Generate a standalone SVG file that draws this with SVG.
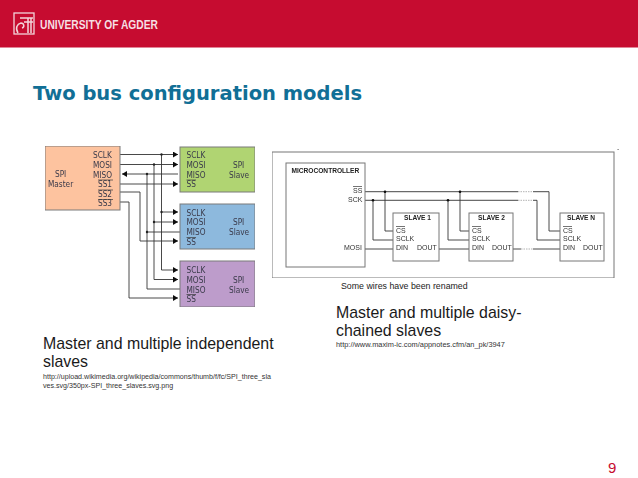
<svg xmlns="http://www.w3.org/2000/svg" width="638" height="478" viewBox="0 0 638 478">
<style>
text{font-family:"Liberation Sans",Arial,sans-serif}
.d{font-family:"DejaVu Sans Condensed","DejaVu Sans",sans-serif;font-size:8.2px;fill:#3a3a4a}
.m{font-size:7px;fill:#333}
.b{font-size:6.6px;font-weight:bold;fill:#222}
.w{fill:none;stroke:#333;stroke-width:.9}
.r{fill:none;stroke:#777;stroke-width:1}
.box{stroke:#7a7a7a;stroke-width:1}
.big{font-size:15.900px;fill:#1a1a1a}
.src{font-size:7.100px;fill:#333}
.o{stroke:#3a3a3a;stroke-width:.7}
</style>
<defs>
<marker id="a" markerUnits="userSpaceOnUse" markerWidth="6" markerHeight="6" refX="5" refY="3" orient="auto"><path d="M0 0L5 3L0 6z" fill="#111"/></marker>
<filter id="soft" x="0" y="0" width="1" height="1"><feGaussianBlur stdDeviation="0.35"/></filter>
</defs>
<rect width="638" height="478" fill="#fff"/>
<g id="header">
<rect width="638" height="47.500" fill="#c60c30"/>
<g id="logo" fill="none" stroke="#f3d5da">
<rect x="14" y="13" width="20" height="21" stroke-width="1.300"/>
<path d="M20 18H33M24 22H33M28 18V33M31 18V33M18 33C15 28 17 24 21 23C24 23 25 27 22 28" stroke-width="1.500"/>
</g>
<text x="40" y="29" font-size="12.500" font-weight="bold" fill="#f6dfe3" textLength="118" lengthAdjust="spacingAndGlyphs">UNIVERSITY OF AGDER</text>
</g>
<text x="33" y="99.500" font-size="19" font-weight="bold" fill="#116f96" style="font-family:'DejaVu Sans',Verdana,sans-serif" textLength="329" lengthAdjust="spacingAndGlyphs">Two bus configuration models</text>

<g id="left-figure" filter="url(#soft)">
<g id="left-connectors" class="w">
<path d="M120 154.500H178" marker-end="url(#a)"/>
<path d="M120 164.500H178" marker-end="url(#a)"/>
<path d="M178 174H122" marker-end="url(#a)"/>
<path d="M120 184H178" marker-end="url(#a)"/>
<path d="M161.500 154.500V270H178" marker-end="url(#a)"/>
<path d="M154 164.500V279.500H178" marker-end="url(#a)"/>
<path d="M147 174V289H180"/>
<path d="M161.500 212H178" marker-end="url(#a)"/>
<path d="M154 222H178" marker-end="url(#a)"/>
<path d="M147 232H180"/>
<path d="M120 192H140V241H178" marker-end="url(#a)"/>
<path d="M120 202H129V298H178" marker-end="url(#a)"/>
</g>
<g fill="#222">
<circle cx="161.500" cy="154.500" r="1.200"/><circle cx="154" cy="164.500" r="1.200"/><circle cx="147" cy="174" r="1.200"/>
<circle cx="161.500" cy="212" r="1.200"/><circle cx="154" cy="222" r="1.200"/><circle cx="147" cy="232" r="1.200"/>
</g>
<g id="spi-master">
<rect class="box" x="45" y="146" width="75" height="64" fill="#fdc39f"/>
<text class="d" x="93" y="158">SCLK</text><text class="d" x="93" y="168">MOSI</text><text class="d" x="93" y="177.500">MISO</text><text class="d" x="98" y="187">SS1</text><text class="d" x="98" y="196.500">SS2</text><text class="d" x="98" y="206">SS3</text>
<path class="o" d="M98 180H113M98 190H113M98 199.500H113"/>
<text class="d" x="55" y="177">SPI</text><text class="d" x="48" y="187">Master</text>
</g>
<g id="spi-slave-1">
<rect class="box" x="180" y="147" width="75" height="45" fill="#b0d472"/>
<text class="d" x="186.500" y="158">SCLK</text><text class="d" x="186.500" y="168">MOSI</text><text class="d" x="186.500" y="177.500">MISO</text><text class="d" x="186.500" y="187">SS</text>
<path class="o" d="M186.500 180H196"/>
<text class="d" x="233" y="168">SPI</text><text class="d" x="229" y="177.500">Slave</text>
</g>
<g id="spi-slave-2">
<rect class="box" x="180" y="204" width="75" height="45" fill="#8db9dd"/>
<text class="d" x="186.500" y="215.500">SCLK</text><text class="d" x="186.500" y="225">MOSI</text><text class="d" x="186.500" y="235">MISO</text><text class="d" x="186.500" y="244.500">SS</text>
<path class="o" d="M186.500 237.500H196"/>
<text class="d" x="233" y="225">SPI</text><text class="d" x="229" y="235">Slave</text>
</g>
<g id="spi-slave-3">
<rect class="box" x="180" y="261" width="75" height="46" fill="#bd9ccb"/>
<text class="d" x="186.500" y="273">SCLK</text><text class="d" x="186.500" y="283">MOSI</text><text class="d" x="186.500" y="292.500">MISO</text><text class="d" x="186.500" y="302">SS</text>
<path class="o" d="M186.500 294.500H196"/>
<text class="d" x="233" y="283">SPI</text><text class="d" x="229" y="292.500">Slave</text>
</g>
</g>

<g id="right-figure" filter="url(#soft)">
<rect id="frame" class="r" x="272" y="152" width="342" height="126" stroke-width="1.200"/>
<g id="right-connectors" class="w">
<path d="M365 191.700H518M533 191.700H549V231H560"/>
<path d="M365 200.300H518M533 200.300H537V240H560"/>
<path d="M385 191.700V231H393"/>
<path d="M373 200.300V240H393"/>
<path d="M460 191.700V231H469"/>
<path d="M448 200.300V240H469"/>
<path d="M365 249H393"/>
<path d="M439 249H469"/>
<path d="M513 249H521M533 249H560"/>
<path d="M518 191.700H533M518 200.300H533M521 249H533" stroke="#aaa" stroke-dasharray="1.500 1"/>
</g>
<g fill="#111">
<circle cx="385" cy="191.700" r="1.300"/><circle cx="373" cy="200.300" r="1.300"/><circle cx="460" cy="191.700" r="1.300"/><circle cx="448" cy="200.300" r="1.300"/>
</g>
<g id="microcontroller">
<rect class="r" x="286" y="163" width="79" height="104" fill="#fff"/>
<text class="b" x="291.500" y="173">MICROCONTROLLER</text>
<text class="m" x="353" y="193">SS</text><text class="m" x="348" y="202">SCK</text><text class="m" x="344" y="250">MOSI</text>
<path class="o" d="M353 186.500H362"/>
</g>
<g id="slave-1">
<rect class="r" x="393" y="213" width="46" height="48" fill="#fff"/>
<text class="b" x="404" y="219.500">SLAVE 1</text>
<text class="m" x="396" y="232.500">CS</text><text class="m" x="396" y="241">SCLK</text><text class="m" x="396" y="250">DIN</text><text class="m" x="417" y="250">DOUT</text>
<path class="o" d="M396 226.500H405"/>
</g>
<g id="slave-2">
<rect class="r" x="469" y="213" width="44" height="48" fill="#fff"/>
<text class="b" x="478" y="219.500">SLAVE 2</text>
<text class="m" x="472" y="232.500">CS</text><text class="m" x="472" y="241">SCLK</text><text class="m" x="472" y="250">DIN</text><text class="m" x="492" y="250">DOUT</text>
<path class="o" d="M472 226.500H481"/>
</g>
<g id="slave-n">
<rect class="r" x="560" y="213" width="44" height="48" fill="#fff"/>
<text class="b" x="567" y="219.500">SLAVE N</text>
<text class="m" x="563" y="232.500">CS</text><text class="m" x="563" y="241">SCLK</text><text class="m" x="563" y="250">DIN</text><text class="m" x="583" y="250">DOUT</text>
<path class="o" d="M563 226.500H572"/>
</g>
<text x="617" y="151" font-size="7" fill="#555">-</text>
</g>
<text x="341" y="289" font-size="8.800" fill="#222">Some wires have been renamed</text>
<text class="big" x="336" y="318">Master and multiple daisy-</text>
<text class="big" x="336" y="336">chained slaves</text>
<text x="336" y="347" style="font-size:7.400px" fill="#333">http://www.maxim-ic.com/appnotes.cfm/an_pk/3947</text>
<text class="big" x="43" y="349">Master and multiple independent</text>
<text class="big" x="43" y="367">slaves</text>
<text class="src" x="43" y="379">http://upload.wikimedia.org/wikipedia/commons/thumb/f/fc/SPI_three_sla</text>
<text class="src" x="43" y="388">ves.svg/350px-SPI_three_slaves.svg.png</text>
<text x="608" y="473" font-size="15" fill="#c60c30">9</text>
</svg>
